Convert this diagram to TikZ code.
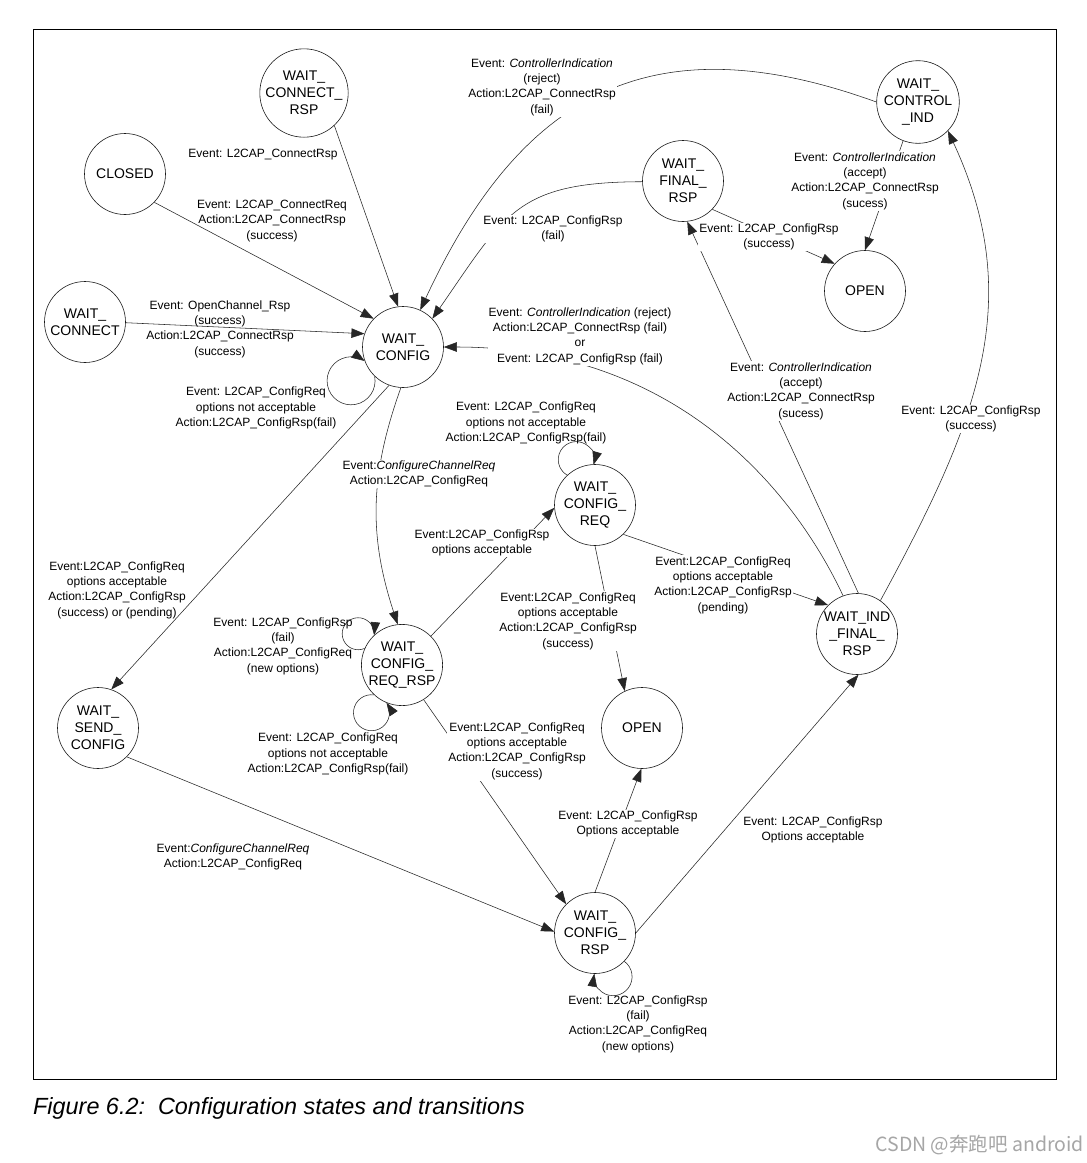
\documentclass[tikz,border=0pt]{standalone}
\usepackage{fontspec}
\setmainfont{Liberation Sans}
\newfontfamily\cjkfont{Noto Sans CJK SC}
\usetikzlibrary{arrows.meta}
\begin{document}
\begin{tikzpicture}[x=1pt,y=1pt,
  stnode/.style={circle,draw=black!90,line width=0.6pt,minimum size=81pt,inner sep=0pt,align=center,font=\fontsize{14}{17}\selectfont},
  conn/.style={draw=black!85,line width=0.55pt,-{Triangle[length=13pt,width=9.5pt]}},
  lbl/.style={align=center,font=\fontsize{12}{15.3}\selectfont,inner sep=1pt},
  wlbl/.style={lbl,fill=white}]
\useasboundingbox (0,0) rectangle (1087,-1163);
\fill[white] (0,0) rectangle (1087,-1163);
\draw[line width=0.8pt] (33,-29) rectangle (1056,-1079);

% states
\node[stnode] (wcr)   at (304,-93)  {WAIT\_\\CONNECT\_\\RSP};
\node[stnode] (closed) at (125,-174) {CLOSED};
\node[stnode] (wc)    at (85,-322)  {WAIT\_\\CONNECT};
\node[stnode] (wcfg)  at (403,-347) {WAIT\_\\CONFIG};
\node[stnode] (wci)   at (918,-102) {WAIT\_\\CONTROL\\\_IND};
\node[stnode] (wfr)   at (683,-181) {WAIT\_\\FINAL\_\\RSP};
\node[stnode] (open1) at (865,-291) {OPEN};
\node[stnode] (wcreq) at (595,-505) {WAIT\_\\CONFIG\_\\REQ};
\node[stnode] (wcrr)  at (402,-665) {WAIT\_\\CONFIG\_\\REQ\_RSP};
\node[stnode] (open2) at (642,-728) {OPEN};
\node[stnode] (wifr)  at (857,-634) {WAIT\_IND\\\_FINAL\_\\RSP};
\node[stnode] (wsc)   at (98,-728)  {WAIT\_\\SEND\_\\CONFIG};
\node[stnode] (wcrsp) at (595,-933) {WAIT\_\\CONFIG\_\\RSP};

% connectors
\draw[conn] (wcr.-47) -- (wcfg.97);
\draw[conn] (closed.-44) -- (wcfg.136);
\draw[conn] (wc.-1) -- (wcfg.161);
\draw[conn] (wcfg.226) arc[start angle=10.7, end angle=-304.3, radius=24];
\draw[conn] (wcfg.250) -- (wsc.71);
\draw[conn] (wcfg.267) to[bend right=19] (wcrr.96);
\draw[conn] (wcrr.156) arc[start angle=-66.2, end angle=-365.2, radius=16];
\draw[conn] (wcrr.227) arc[start angle=81.6, end angle=393.4, radius=18];
\draw[conn] (wcrr.45) -- (wcreq.184);
\draw[conn] (wcreq.133) arc[start angle=-120.3, end angle=-376.2, radius=18];
\draw[conn] (wcreq.270) -- (open2.115);
\draw[conn] (wcreq.-46) -- (wifr.135);
\draw[conn] (wcrr.-58) -- (wcrsp.135);
\draw[conn] (wsc.-45) -- (wcrsp.178);
\draw[conn] (wcrsp.90) -- (open2.-91);
\draw[conn] (wcrsp.0) -- (wifr.-88);
\draw[conn] (wcrsp.-44) arc[start angle=53.7, end angle=-189.2, radius=19];
\draw[conn] (wifr.55) .. controls (975,-426) and (1028,-303) .. (wci.-44);
\draw[conn] (wifr.88) -- (wfr.-84);
\draw[conn] (wifr.110) .. controls (792,-487) and (674,-347) .. (wcfg.0);
\draw[conn] (wfr.181) .. controls (516,-182) and (505,-214) .. (wcfg.44);
\draw[conn] (wci.180) .. controls (650,-20) and (520,-95) .. (wcfg.65);
\draw[conn] (wci.249) -- (open1.90);
\draw[conn] (wfr.-44) -- (open1.138);

% labels
\node[lbl] (l1) at (263,-155) {Event: L2CAP\_ConnectRsp};
\node[lbl] (l2) at (272,-221) {Event: L2CAP\_ConnectReq\\Action:L2CAP\_ConnectRsp\\(success)};
\node[lbl] (l3) at (220,-329) {Event: OpenChannel\_Rsp\\(success)\\Action:L2CAP\_ConnectRsp\\(success)};
\node[lbl] (l4) at (256,-408) {Event: L2CAP\_ConfigReq\\options not acceptable\\Action:L2CAP\_ConfigRsp(fail)};
\node[lbl] (l5) at (117,-590) {Event:L2CAP\_ConfigReq\\options acceptable\\Action:L2CAP\_ConfigRsp\\(success) or (pending)};
\node[wlbl] (l6) at (419,-474) {Event:\textit{ConfigureChannelReq}\\Action:L2CAP\_ConfigReq};
\node[lbl] (l7) at (283,-646) {Event: L2CAP\_ConfigRsp\\(fail)\\Action:L2CAP\_ConfigReq\\(new options)};
\node[lbl] (l8) at (328,-754) {Event: L2CAP\_ConfigReq\\options not acceptable\\Action:L2CAP\_ConfigRsp(fail)};
\node[wlbl] (l9) at (482,-543) {Event:L2CAP\_ConfigRsp\\options acceptable};
\node[lbl] (l10) at (526,-423) {Event: L2CAP\_ConfigReq\\options not acceptable\\Action:L2CAP\_ConfigRsp(fail)};
\node[wlbl] (l11) at (568,-621) {Event:L2CAP\_ConfigReq\\options acceptable\\Action:L2CAP\_ConfigRsp\\(success)};
\node[wlbl] (l12) at (723,-585) {Event:L2CAP\_ConfigReq\\options acceptable\\Action:L2CAP\_ConfigRsp\\(pending)};
\node[wlbl] (l13) at (517,-751) {Event:L2CAP\_ConfigReq\\options acceptable\\Action:L2CAP\_ConfigRsp\\(success)};
\node[lbl] (l14) at (233,-857) {Event:\textit{ConfigureChannelReq}\\Action:L2CAP\_ConfigReq};
\node[wlbl] (l15) at (628,-824) {Event: L2CAP\_ConfigRsp\\Options acceptable};
\node[lbl] (l16) at (813,-830) {Event: L2CAP\_ConfigRsp\\Options acceptable};
\node[lbl] (l17) at (638,-1024) {Event: L2CAP\_ConfigRsp\\(fail)\\Action:L2CAP\_ConfigReq\\(new options)};
\node[wlbl] (l18) at (971,-419) {Event: L2CAP\_ConfigRsp\\(success)};
\node[wlbl] (l19) at (801,-391) {Event: \textit{ControllerIndication}\\(accept)\\Action:L2CAP\_ConnectRsp\\(sucess)};
\node[wlbl] (l20) at (580,-336) {Event: \textit{ControllerIndication} (reject)\\Action:L2CAP\_ConnectRsp (fail)\\or\\Event: L2CAP\_ConfigRsp (fail)};
\node[wlbl] (l21) at (553,-229) {Event: L2CAP\_ConfigRsp\\(fail)};
\node[wlbl] (l22) at (542,-87) {Event: \textit{ControllerIndication}\\(reject)\\Action:L2CAP\_ConnectRsp\\(fail)};
\node[wlbl] (l23) at (865,-181) {Event: \textit{ControllerIndication}\\(accept)\\Action:L2CAP\_ConnectRsp\\(sucess)};
\node[wlbl] (l24) at (769,-237) {Event: L2CAP\_ConfigRsp\\(success)};

% caption and watermark
\node[anchor=base west,inner sep=0pt,font=\fontsize{23.4}{27}\selectfont\itshape] (cap) at (33,-1114) {Figure 6.2:\ \ Configuration states and transitions};
\node[anchor=east,inner sep=0pt,text=black!35,font=\cjkfont\fontsize{19.5}{21}\selectfont] (wm) at (1084,-1145) {CSDN @奔跑吧 android};
\end{tikzpicture}
\end{document}
